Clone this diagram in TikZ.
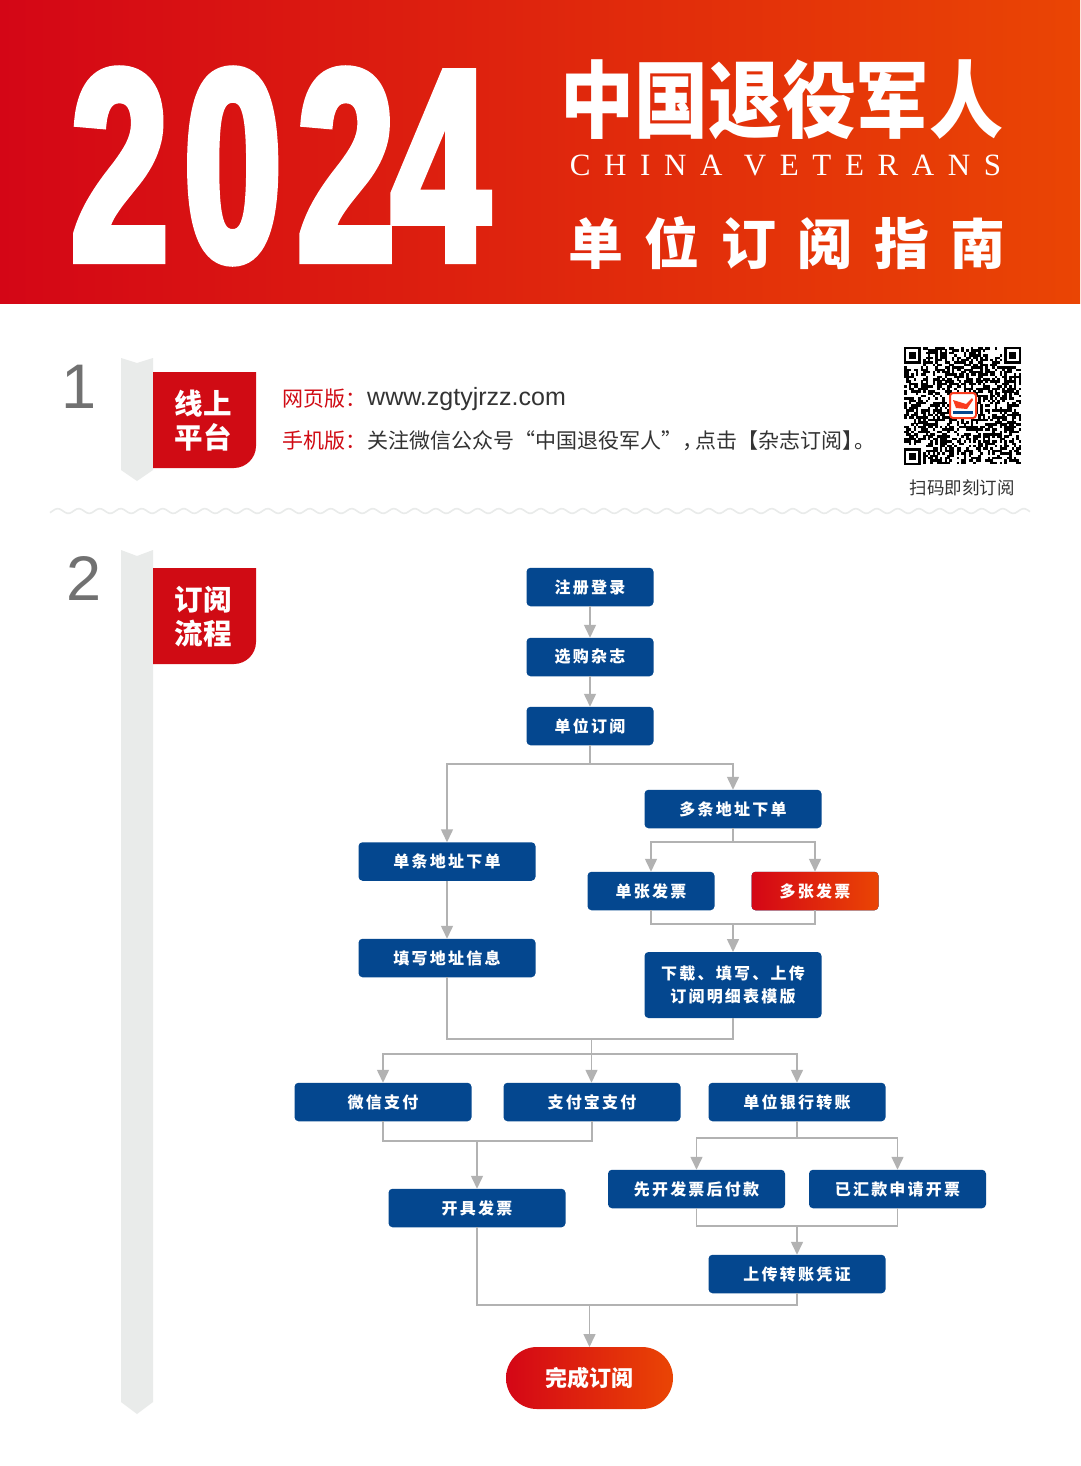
\documentclass[tikz,border=0pt]{standalone}
\usepackage{fontspec}
\usetikzlibrary{arrows.meta}
\setmainfont{Liberation Sans}
\newfontfamily\cjk{Noto Sans CJK SC}
\newfontfamily\cjkbox[LetterSpace=14]{Noto Sans CJK SC}
\newfontfamily\cjktitle[LetterSpace=39]{Noto Sans CJK SC}
\newfontfamily\cjkcal[FakeStretch=0.88]{Noto Sans CJK SC}
\newfontfamily\serifsp[LetterSpace=44]{Liberation Serif}
\newfontfamily\yeardigits[FakeStretch=0.64,FakeBold=3,LetterSpace=5.9]{Liberation Sans}
\definecolor{tagred}{HTML}{D00B14}
\definecolor{gradl}{HTML}{D40616}
\definecolor{gradr}{HTML}{EA4504}
\definecolor{boxblue}{HTML}{04478F}
\definecolor{linegrey}{HTML}{B2B2B2}
\definecolor{ribbon}{HTML}{E9EBEA}
\definecolor{numgrey}{HTML}{717171}
\definecolor{txtgrey}{HTML}{333333}
\definecolor{logored}{HTML}{FA3C1E}
\tikzset{
  flowbox/.style={rectangle,rounded corners=4pt,fill=boxblue,text=white,inner sep=0pt,outer sep=0pt,
     minimum width=177pt,minimum height=38.5pt,align=center,
     font=\cjkbox\fontsize{16}{23}\selectfont\bfseries},
  smallbox/.style={flowbox,minimum width=127pt},
  hotbox/.style={left color=gradl,right color=gradr},
  conn/.style={draw=linegrey,line width=1.5pt},
  arr/.style={conn,-{Triangle[width=12pt,length=13pt,fill=linegrey]}},
  tagtxt/.style={text=white,inner sep=0pt,align=center,font=\cjk\fontsize{28.5}{34}\selectfont\bfseries},
  numtxt/.style={text=numgrey,inner sep=0pt,font=\fontsize{63}{63}\selectfont},
  lbl/.style={inner sep=0pt,anchor=west,font=\cjk\fontsize{21}{25}\selectfont},
}
\begin{document}
\begin{tikzpicture}[x=1pt,y=-1pt]
\useasboundingbox (0,0) rectangle (1080,1466);
\fill[white] (0,0) rectangle (1080,1466);
% header
\shade[left color=gradl,right color=gradr] (0,0) rectangle (1080,303);
\node[text=white,inner sep=0pt] (year) at (280,166) {\yeardigits\fontsize{273}{273}\selectfont\bfseries 202\kern-3pt 4};
\node[text=white,inner sep=0pt] (mag) at (782,100) {\cjkcal\fontsize{84}{84}\selectfont\bfseries 中国退役军人};
\node[text=white,inner sep=0pt] (mageng) at (785.5,165) {\serifsp\fontsize{31}{31}\selectfont CHINA VETERANS};
\node[text=white,inner sep=0pt] (guide) at (787,243) {\cjktitle\fontsize{55}{55}\selectfont\bfseries 单位订阅指南};
% section 1
\node[numtxt] (n1) at (79,387) {1};
\fill[ribbon] (121,358) -- (137,363) -- (153,358) -- (153,470) -- (137,481) -- (121,470) -- cycle;
\fill[tagred] (153,372) -- (256,372) -- (256,446) .. controls (256,458) and (246,468) .. (234,468) -- (153,468) -- cycle;
\node[tagtxt] (t1) at (203,421) {线上\\平台};
\node[lbl,text=tagred] (web) at (282,398.5) {网页版：};
\node[lbl,text=txtgrey,font=\fontsize{25}{25}\selectfont] (url) at (367,399.5) {www.zgtyjrzz.com};
\node[lbl,text=tagred] (mob) at (282,440.5) {手机版：};
\node[lbl,text=txtgrey] (wx) at (367,440.5) {关注微信公众号“中国退役军人”，\kern-8pt 点击【杂志订阅】\kern-9pt 。};
% QR
\pgfmathsetseed{20240}
\foreach \i in {0,...,48}{
  \foreach \j in {0,...,48}{
    \pgfmathtruncatemacro{\skipit}{((\i<8 && \j<8) || (\i>40 && \j<8) || (\i<8 && \j>40)) ? 1 : 0}
    \pgfmathtruncatemacro{\on}{rnd<0.52 ? 1 : 0}
    \ifnum\skipit=0 \ifnum\on=1
      \fill[black] ({904+\i*2.39},{347+\j*2.39}) rectangle ++(2.5,2.5);
    \fi\fi
  }
}
\foreach \ox/\oy in {904/347,1004.3/347,904/448.3}{
  \fill[black] (\ox,\oy) rectangle ++(16.7,16.7);
  \fill[white] ({\ox+2.39},{\oy+2.39}) rectangle ++(11.95,11.95);
  \fill[black] ({\ox+4.78},{\oy+4.78}) rectangle ++(7.17,7.17);
}
\filldraw[fill=white,draw=logored,line width=2pt,rounded corners=3pt] (950,393) rectangle (976,418);
\fill[logored] (953,400) -- (966,404) -- (972,398) -- (973,400) -- (967,409) -- (956,408) -- cycle;
\fill[boxblue] (953,411) rectangle (973,413.5);
\node[text=txtgrey,inner sep=0pt,font=\cjk\fontsize{17.5}{20}\selectfont] (scan) at (962,487.5) {扫码即刻订阅};
% divider
\draw[ribbon,line width=1.6pt] plot[domain=50:1030,samples=400,smooth] (\x,{511+2.4*sin(mod(\x,21)*17.1429)});
% section 2
\node[numtxt] (n2) at (84,578) {2};
\fill[ribbon] (121,550) -- (137,556) -- (153,550) -- (153,1402) -- (137,1414) -- (121,1402) -- cycle;
\fill[tagred] (153,568) -- (256,568) -- (256,642) .. controls (256,654) and (246,664) .. (234,664) -- (153,664) -- cycle;
\node[tagtxt] (t2) at (203,617) {订阅\\流程};
% flow nodes
\node[smallbox] (reg) at (590,587) {注册登录};
\node[smallbox] (buy) at (590,657) {选购杂志};
\node[smallbox] (dw) at (590,726) {单位订阅};
\node[flowbox] (multi) at (733,809) {多条地址下单};
\node[flowbox] (single) at (447,861.5) {单条地址下单};
\node[smallbox] (onebill) at (651,891) {单张发票};
\node[smallbox,hotbox] (manybill) at (815,891) {多张发票};
\node[flowbox] (fill) at (447,958) {填写地址信息};
\node[flowbox,minimum height=66pt] (tmpl) at (733,985) {下载、填写、上传\\订阅明细表模版};
\node[flowbox] (wechat) at (383,1102) {微信支付};
\node[flowbox] (alipay) at (592,1102) {支付宝支付};
\node[flowbox] (bank) at (797,1102) {单位银行转账};
\node[flowbox] (inv) at (477,1208) {开具发票};
\node[flowbox] (first) at (696.5,1189) {先开发票后付款};
\node[flowbox] (paid) at (897.5,1189) {已汇款申请开票};
\node[flowbox] (upload) at (797,1274) {上传转账凭证};
\node[hotbox,rectangle,rounded corners=31pt,text=white,inner sep=0pt,outer sep=0pt,minimum width=167pt,minimum height=62pt,font=\cjk\fontsize{22}{26}\selectfont\bfseries] (done) at (589.5,1378) {完成订阅};
% junctions
\coordinate (j1) at (590,764);
\coordinate (j2) at (733,842);
\coordinate (j3) at (733,924);
\coordinate (j4) at (591.5,1039);
\coordinate (j5) at (591.5,1054);
\coordinate (j6) at (477,1141);
\coordinate (j7) at (797,1138);
\coordinate (j8) at (797,1226);
\coordinate (j9) at (589.5,1305);
% connectors
\draw[arr] (reg) -- (buy);
\draw[arr] (buy) -- (dw);
\draw[conn] (dw) -- (j1);
\draw[arr] (j1) -| (single.north);
\draw[arr] (j1) -| (multi.north);
\draw[conn] (multi) -- (j2);
\draw[arr] (j2) -| (onebill.north);
\draw[arr] (j2) -| (manybill.north);
\draw[conn] (onebill.south) |- (j3);
\draw[conn] (manybill.south) |- (j3);
\draw[arr] (j3) -- (tmpl.north);
\draw[arr] (single) -- (fill);
\draw[conn] (fill.south) |- (j4);
\draw[conn] (tmpl.south) |- (j4);
\draw[conn] (j4) -- (j5);
\draw[arr] (j5) -| (wechat.north);
\draw[arr] (j5) -- (j5 |- alipay.north);
\draw[arr] (j5) -| (bank.north);
\draw[conn] (wechat.south) |- (j6);
\draw[conn] (alipay.south) |- (j6);
\draw[arr] (j6) -- (inv.north);
\draw[conn] (bank.south) -- (j7);
\draw[arr] (j7) -| (first.north);
\draw[arr] (j7) -| (paid.north);
\draw[conn] (first.south) |- (j8);
\draw[conn] (paid.south) |- (j8);
\draw[arr] (j8) -- (upload.north);
\draw[conn] (inv.south) |- (j9);
\draw[conn] (upload.south) |- (j9);
\draw[arr] (j9) -- (done.north);
\end{tikzpicture}
\end{document}
